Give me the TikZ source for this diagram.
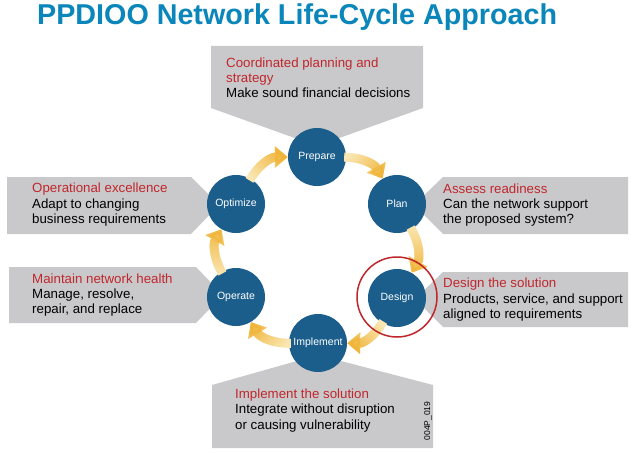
\documentclass[tikz,border=0pt]{standalone}
\usepackage{fontspec}
\setmainfont{Liberation Sans}
\usetikzlibrary{arrows.meta,fadings}
\definecolor{titleblue}{HTML}{0A86BA}
\definecolor{circblue}{HTML}{1B5E8C}
\definecolor{boxgray}{HTML}{C9C9CB}
\definecolor{redtext}{HTML}{C0272D}
\definecolor{arroworange}{HTML}{F0B437}
\definecolor{arrowpale}{HTML}{FAE7B4}
\tikzset{
  phase/.style={circle, fill=circblue, minimum size=58pt, inner sep=0pt, text=white, font=\fontsize{10.5}{12}\selectfont},
  callout/.style={fill=boxgray, draw=none},
  head/.style={anchor=base west, inner sep=0pt, text=redtext, font=\fontsize{13.3}{16}\selectfont},
  body/.style={anchor=base west, inner sep=0pt, text=black, font=\fontsize{13.3}{16}\selectfont},
  cyc/.style={line width=9pt, -{Triangle[width=21pt,length=13pt]}, shorten <=-2pt, bend left=30},
}
\newcommand\cycarrow[3]{%
  \draw[cyc, draw=arrowpale] (#1) to (#2);
  \draw[cyc, draw=arroworange, path fading=west, fading angle=#3] (#1) to (#2);
}
\begin{document}
\begin{tikzpicture}[x=1pt,y=-1pt]
\useasboundingbox (0,0) rectangle (636,452);
\fill[white] (0,0) rectangle (636,452);

% title
\node[anchor=base west, inner sep=0pt, text=titleblue, font=\fontsize{28.7}{30}\selectfont\bfseries] (title) at (37,25) {PPDIOO Network Life-Cycle Approach};

% callout shapes
\fill[callout] (211,46) -- (423,46) -- (423,108) -- (317,146) -- (211,108) -- cycle;
\fill[callout] (7,177) -- (191,177) -- (219,205) -- (191,234) -- (7,234) -- cycle;
\fill[callout] (9,267) -- (196,267) -- (223,295) -- (196,323) -- (9,323) -- cycle;
\fill[callout] (628,177) -- (443,177) -- (414,205) -- (443,234) -- (628,234) -- cycle;
\fill[callout] (628,272) -- (443,272) -- (415,299) -- (443,327) -- (628,327) -- cycle;
\fill[callout] (212,448) -- (212,385) -- (318,355) -- (433,385) -- (433,448) -- cycle;

% phases
\node[phase] (prepare)   at (317,157) {Prepare};
\node[phase] (plan)      at (397,204) {Plan};
\node[phase] (design)    at (397,298) {Design};
\node[phase] (implement) at (318,343) {Implement};
\node[phase] (operate)   at (236,297) {Operate};
\node[phase] (optimize)  at (236,204) {Optimize};

% cycle arrows
\cycarrow{prepare}{plan}{-30}
\cycarrow{plan}{design}{-90}
\cycarrow{design}{implement}{-150}
\cycarrow{implement}{operate}{150}
\cycarrow{operate}{optimize}{90}
\cycarrow{optimize}{prepare}{30}

% red highlight ring
\node[circle, draw=redtext, line width=1.5pt, minimum size=80pt, inner sep=0pt] (ring) at (397,297) {};

% texts
\node[head] (pa) at (226,67) {Coordinated planning and};
\node[head] (pb) at (226,82) {strategy};
\node[body] (pc) at (226,97) {Make sound financial decisions};

\node[head] (oa) at (32,192) {Operational excellence};
\node[body] (ob) at (32,208) {Adapt to changing};
\node[body] (oc) at (32,223) {business requirements};

\node[head] (ma) at (32,283) {Maintain network health};
\node[body] (mb) at (32,298) {Manage, resolve,};
\node[body] (mc) at (32,313) {repair, and replace};

\node[head] (la) at (443,193) {Assess readiness};
\node[body] (lb) at (443,208) {Can the network support};
\node[body] (lc) at (443,223) {the proposed system?};

\node[head] (da) at (443,287) {Design the solution};
\node[body] (db) at (443,303) {Products, service, and support};
\node[body] (dc) at (443,318) {aligned to requirements};

\node[head] (ia) at (235,398) {Implement the solution};
\node[body] (ib) at (235,413) {Integrate without disruption};
\node[body] (ic) at (235,429) {or causing vulnerability};

\node[rotate=90, inner sep=0pt, font=\fontsize{8.5}{9}\selectfont] (code) at (428,421) {004P\_019};
\end{tikzpicture}
\end{document}
